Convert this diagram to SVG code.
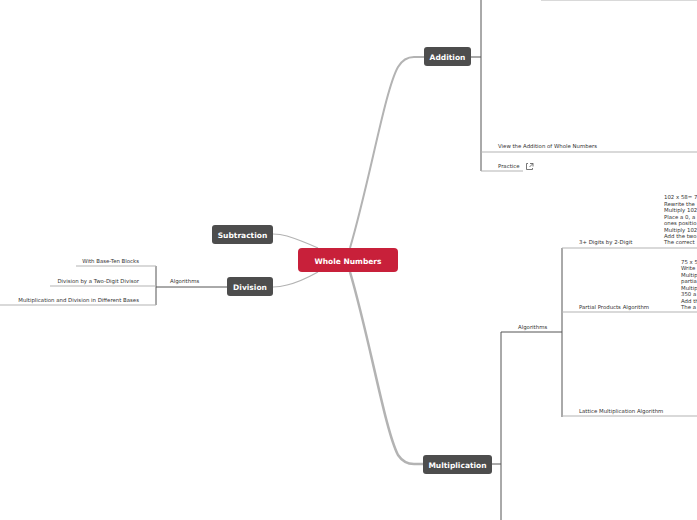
<svg xmlns="http://www.w3.org/2000/svg" width="697" height="520" viewBox="0 0 697 520">
<style>
.t{font-family:"DejaVu Sans",sans-serif;font-size:5.4px;fill:#333}
.n{font-family:"DejaVu Sans",sans-serif;font-size:7.5px;font-weight:bold;fill:#fff;text-anchor:middle}
.b{fill:#4d4d4d}
.l{stroke:#b3b3b3;stroke-width:1;fill:none}
.d{stroke:#555;stroke-width:1;fill:none}
.c{stroke:#b3b3b3;fill:none}
</style>
<rect width="697" height="520" fill="#fff"/>
<g id="connectors">
<path class="c" stroke-width="2" d="M350,248 C370,180 385,90 398,67 Q404,57 414,57 L424,57"/>
<path class="c" stroke-width="1.2" d="M318,248 Q300,240 287,236 Q280,234 273,234"/>
<path class="c" stroke-width="1.2" d="M318,272 Q300,282 287,285 Q280,287 273,287"/>
<path class="c" stroke-width="2.5" d="M350,272 C370,340 385,430 398,455 Q404,464 414,464 L423,464"/>
<path class="d" d="M471,57 H481 M481,0 V171"/>
<path class="l" d="M541,0 H697 M481,152 H697 M481,171 H523"/>
<path class="d" d="M492,464 H501 M501,332 V520 M501,332 H562 M562,248 V417"/>
<path class="l" d="M562,248 H697 M562,312 H697 M562,416 H697"/>
<path class="d" d="M227,287 H156 M156,266 V305"/>
<path class="l" d="M156,266 H76 M156,286 H50 M156,305 H0"/>
</g>
<g id="center"><rect x="298" y="248" width="100" height="24" rx="4" fill="#c8203a"/><text class="n" x="348" y="263.5" font-size="8.5">Whole Numbers</text></g>
<g id="addition"><rect class="b" x="424" y="47" width="47" height="19" rx="3"/><text class="n" x="447.5" y="59.5">Addition</text></g>
<g id="subtraction"><rect class="b" x="212" y="225" width="61" height="19" rx="3"/><text class="n" x="242.5" y="237.5">Subtraction</text></g>
<g id="division"><rect class="b" x="227" y="277" width="46" height="19" rx="3"/><text class="n" x="250" y="289.5">Division</text></g>
<g id="multiplication"><rect class="b" x="423" y="455" width="69" height="19" rx="3"/><text class="n" x="457.5" y="467.5">Multiplication</text></g>
<g id="add-view"><text class="t" x="498" y="148">View the Addition of Whole Numbers</text></g>
<g id="add-practice"><text class="t" x="498" y="168">Practice</text>
<path d="M528,163.5 h-1.5 v6 h6 v-1.5 M530,163.5 h3 v3 M533,163.5 l-3.5,3.5" stroke="#555" stroke-width="0.8" fill="none"/></g>
<g id="mult-alg"><text class="t" x="518" y="329">Algorithms</text></g>
<g id="m1"><text class="t" x="579" y="244">3+ Digits by 2-Digit</text></g>
<g id="m2"><text class="t" x="579" y="309">Partial Products Algorithm</text></g>
<g id="m3"><text class="t" x="579" y="413">Lattice Multiplication Algorithm</text></g>
<g id="m1-text" class="t">
<text class="t" x="664" y="199">102 x 58= 7</text>
<text class="t" x="664" y="205.5">Rewrite the</text>
<text class="t" x="664" y="212">Multiply 102</text>
<text class="t" x="664" y="218.5">Place a 0, a</text>
<text class="t" x="664" y="225">ones positio</text>
<text class="t" x="664" y="231.5">Multiply 102</text>
<text class="t" x="664" y="238">Add the two</text>
<text class="t" x="664" y="244">The correct</text>
</g>
<g id="m2-text">
<text class="t" x="681" y="264">75 x 5</text>
<text class="t" x="681" y="270">Write</text>
<text class="t" x="681" y="276.5">Multip</text>
<text class="t" x="681" y="283">partia</text>
<text class="t" x="681" y="289.5">Multip</text>
<text class="t" x="681" y="296">350 a</text>
<text class="t" x="681" y="302.5">Add th</text>
<text class="t" x="681" y="309">The a</text>
</g>
<g id="div-alg"><text class="t" x="170" y="283">Algorithms</text></g>
<g id="d1"><text class="t" x="139" y="263" text-anchor="end">With Base-Ten Blocks</text></g>
<g id="d2"><text class="t" x="139" y="283" text-anchor="end">Division by a Two-Digit Divisor</text></g>
<g id="d3"><text class="t" x="139" y="302" text-anchor="end">Multiplication and Division in Different Bases</text></g>
</svg>
